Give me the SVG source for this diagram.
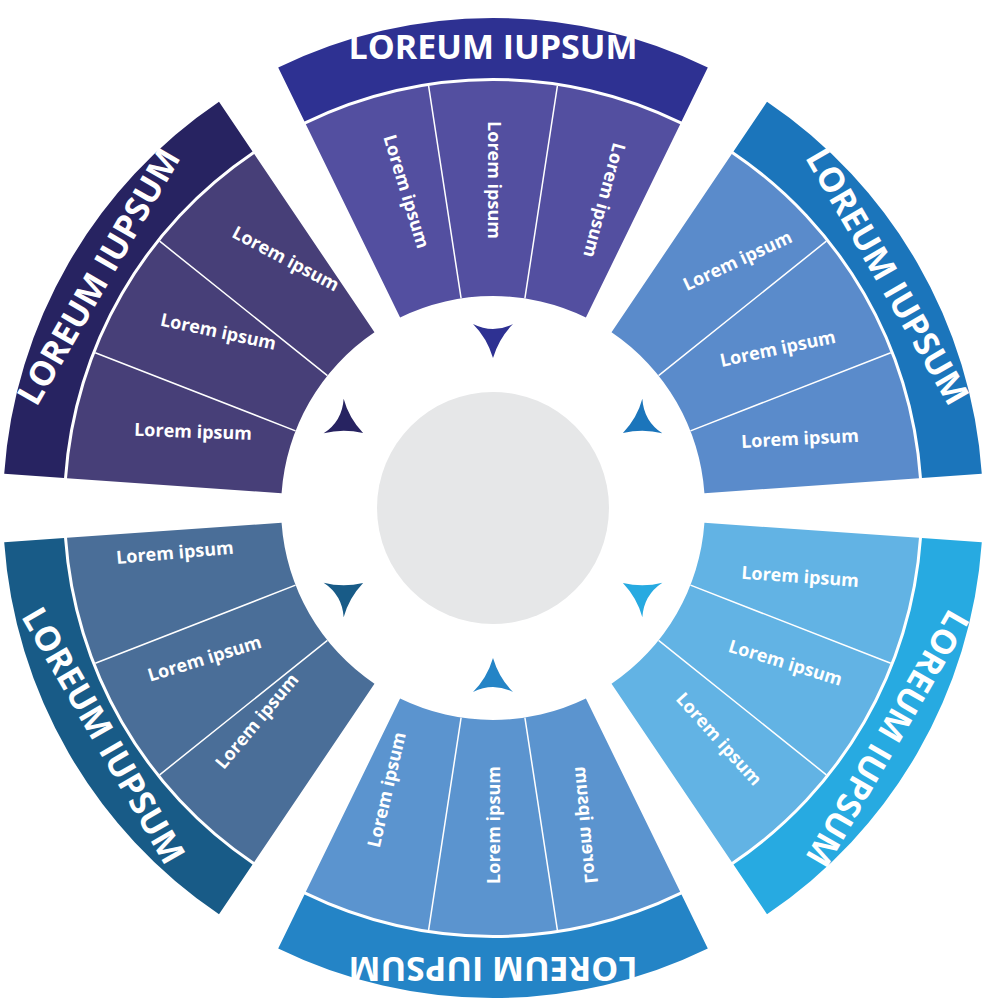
<svg xmlns="http://www.w3.org/2000/svg" xmlns:xlink="http://www.w3.org/1999/xlink" width="996" height="1000" viewBox="0 0 996 1000">
<style>
.t{font-family:"Open Sans","Liberation Sans",sans-serif;font-weight:700;fill:#fff;text-anchor:middle;dominant-baseline:middle}
.h{font-size:34px}
.s{font-size:18px}
.ln{stroke:#fff;stroke-width:1.5;fill:none}
</style>
<defs>
<path id="band" d="M -214.8 -440.4 A 490 490 0 0 1 214.8 -440.4 L 188.5 -386.5 A 430 430 0 0 0 -188.5 -386.5 Z"/>
<path id="inner" d="M -187.2 -383.8 A 427 427 0 0 1 187.2 -383.8 L 92.9 -190.5 A 212 212 0 0 0 -92.9 -190.5 Z"/>
<path id="lines" d="M -31.9 -209.6 L -64.4 -422.1 M 31.9 -209.6 L 64.4 -422.1"/>
<path id="arrow" d="M -20 -184 Q 0 -174 20 -184 Q 6 -170 0 -150 Q -6 -170 -20 -184 Z"/>
</defs>
<rect width="996" height="1000" fill="#fff"/>
<circle id="hub" cx="493" cy="508" r="116" fill="#e6e7e8"/>
<g id="n-top" transform="translate(493,508)">
<use href="#band" fill="#2e3192"/><use href="#inner" fill="#534fa0"/><use href="#lines" class="ln"/><use href="#arrow" fill="#2e3192"/>
</g>
<g id="n-ur" transform="translate(493,508) rotate(60)">
<use href="#band" fill="#1b75bb"/><use href="#inner" fill="#5a8bcb"/><use href="#lines" class="ln"/><use href="#arrow" fill="#1b75bb"/>
</g>
<g id="n-lr" transform="translate(493,508) rotate(120)">
<use href="#band" fill="#27aae1"/><use href="#inner" fill="#62b3e4"/><use href="#lines" class="ln"/><use href="#arrow" fill="#27aae1"/>
</g>
<g id="n-bot" transform="translate(493,508) rotate(180)">
<use href="#band" fill="#2484c6"/><use href="#inner" fill="#5b94cf"/><use href="#lines" class="ln"/><use href="#arrow" fill="#2484c6"/>
</g>
<g id="n-ll" transform="translate(493,508) rotate(240)">
<use href="#band" fill="#185b87"/><use href="#inner" fill="#4a6e98"/><use href="#lines" class="ln"/><use href="#arrow" fill="#185b87"/>
</g>
<g id="n-ul" transform="translate(493,508) rotate(300)">
<use href="#band" fill="#272361"/><use href="#inner" fill="#473f78"/><use href="#lines" class="ln"/><use href="#arrow" fill="#272361"/>
</g>
<g id="titles">
<text class="t h" transform="translate(493,50)">LOREUM IUPSUM</text>
<text class="t h" transform="translate(885,278) rotate(60)">LOREUM IUPSUM</text>
<text class="t h" transform="translate(885,737) rotate(120)">LOREUM IUPSUM</text>
<text class="t h" transform="translate(493,966) rotate(180)">LOREUM IUPSUM</text>
<text class="t h" transform="translate(101,737) rotate(60)">LOREUM IUPSUM</text>
<text class="t h" transform="translate(101,278) rotate(-60)">LOREUM IUPSUM</text>
</g>
<g id="labels">
<text class="t s" transform="translate(405,192) rotate(73)">Lorem ipsum</text>
<text class="t s" transform="translate(493,180) rotate(90)">Lorem ipsum</text>
<text class="t s" transform="translate(603,200) rotate(105)">Lorem ipsum</text>
<text class="t s" transform="translate(738,262) rotate(-25)">Lorem ipsum</text>
<text class="t s" transform="translate(778,350) rotate(-12)">Lorem ipsum</text>
<text class="t s" transform="translate(800,440) rotate(-3)">Lorem ipsum</text>
<text class="t s" transform="translate(800,578) rotate(4)">Lorem ipsum</text>
<text class="t s" transform="translate(785,664) rotate(17)">Lorem ipsum</text>
<text class="t s" transform="translate(718,740) rotate(48)">Lorem ipsum</text>
<text class="t s" transform="translate(388,790) rotate(-77)">Lorem ipsum</text>
<text class="t s" transform="translate(495,825) rotate(-90)">Lorem ipsum</text>
<text class="t s" transform="translate(585,825) rotate(-95) scale(1,-1)">Lorem ipsum</text>
<text class="t s" transform="translate(175,554) rotate(-5)">Lorem ipsum</text>
<text class="t s" transform="translate(205,660) rotate(-17)">Lorem ipsum</text>
<text class="t s" transform="translate(258,722) rotate(-50)">Lorem ipsum</text>
<text class="t s" transform="translate(285,260) rotate(28)">Lorem ipsum</text>
<text class="t s" transform="translate(218,333) rotate(12)">Lorem ipsum</text>
<text class="t s" transform="translate(193,433) rotate(2)">Lorem ipsum</text>
</g>
</svg>
